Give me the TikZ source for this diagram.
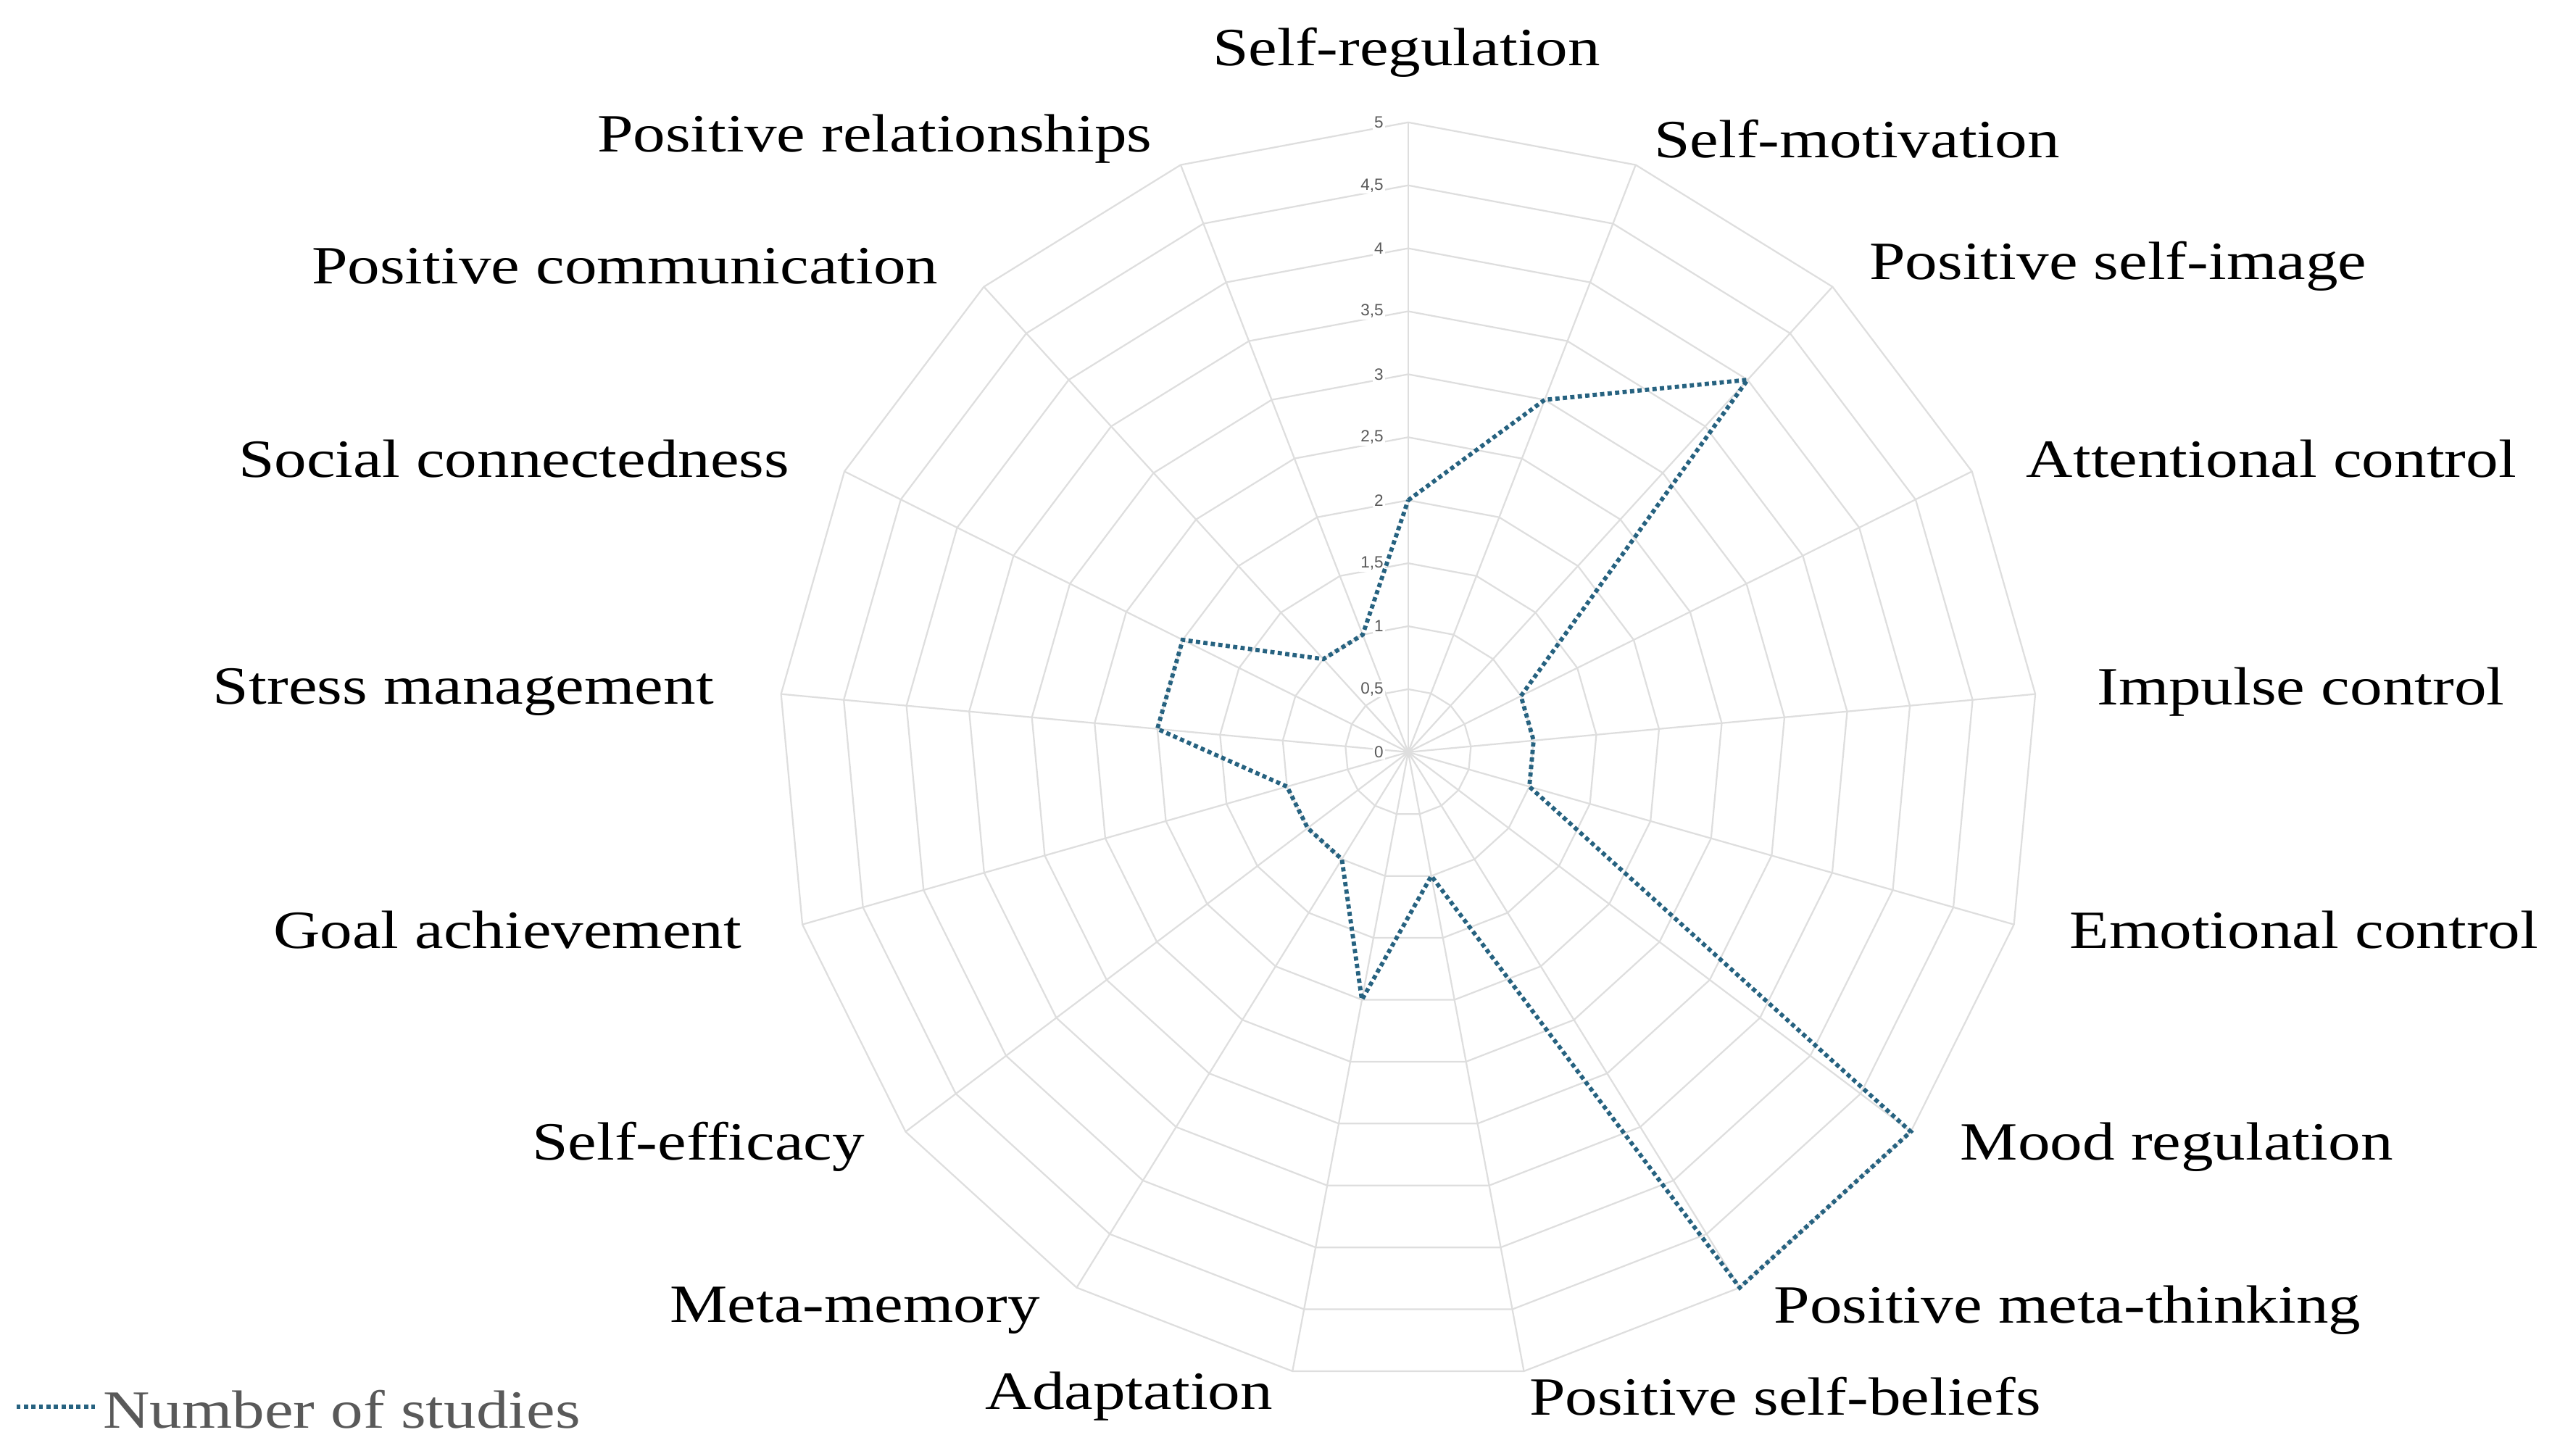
\documentclass[tikz,border=0pt]{standalone}
\usepackage{fontspec}
\setmainfont{Liberation Serif}[FakeStretch=1.2]
\newfontfamily\sans{Liberation Sans}
\usetikzlibrary{calc}
\definecolor{series}{RGB}{38,98,128}
\definecolor{gridc}{RGB}{222,222,222}
\definecolor{tickc}{RGB}{89,89,89}
\begin{document}
\begin{tikzpicture}[x=1pt,y=1pt,
  lab/.style={font=\fontsize{33}{38}\selectfont},
  tick/.style={font=\sans\fontsize{10}{12}\selectfont,text=tickc},
  gridline/.style={draw=gridc,line width=1pt},
  seriesline/.style={draw=series,line width=2.6pt,dotted}]
\useasboundingbox (0,0) rectangle (1564,892);
\coordinate (c) at (863,431);
\def\R{77.2}
% rings
\foreach \k in {1,...,10}{
  \draw[gridline] ($(c)+(90:{\k*0.5*\R})$)
   \foreach \i in {1,...,16}{ -- ($(c)+({90-\i*360/17}:{\k*0.5*\R})$)} -- cycle;
}
\foreach \i in {0,...,16}{
  \draw[gridline] (c) -- ($(c)+({90-\i*360/17}:{5*\R})$);
}
% tick labels
\foreach \v/\t in {0/0,0.5/{0,5},1/1,1.5/{1,5},2/2,2.5/{2,5},3/3,3.5/{3,5},4/4,4.5/{4,5},5/5}{
  \node[tick,anchor=east,fill=white,inner sep=1pt] (t\v) at ($(c)+(-14,{\v*\R})$) {\t};
}
% data
\foreach \v [count=\i from 0] in {2,3,4,1,1,1,5,5,1,2,1,1,1,2,2,1,1}{
  \coordinate (p\i) at ($(c)+({90-\i*360/17}:{\v*\R})$);
}
\draw[seriesline] (p0) -- (p1) -- (p2) -- (p3) -- (p4) -- (p5) -- (p6) -- (p7) -- (p8)
  -- (p9) -- (p10) -- (p11) -- (p12) -- (p13) -- (p14) -- (p15) -- (p16) -- cycle;
% labels
\node[lab] (l0) at (862,860) {Self-regulation};
\node[lab] (l1) at (1138,807) {Self-motivation};
\node[lab] (l2) at (1298,729) {Positive self-image};
\node[lab] (l3) at (1392,611) {Attentional control};
\node[lab] (l4) at (1410,468) {Impulse control};
\node[lab] (l5) at (1412,322) {Emotional control};
\node[lab] (l6) at (1334,189) {Mood regulation};
\node[lab] (l7) at (1267,89) {Positive meta-thinking};
\node[lab] (l8) at (1094,36) {Positive self-beliefs};
\node[lab] (l9) at (692,36) {Adaptation};
\node[lab] (l10) at (524,89) {Meta-memory};
\node[lab] (l11) at (428,189) {Self-efficacy};
\node[lab] (l12) at (311,322) {Goal achievement};
\node[lab] (l13) at (284,468) {Stress management};
\node[lab] (l14) at (315,611) {Social connectedness};
\node[lab] (l15) at (383,729) {Positive communication};
\node[lab] (l16) at (536,807) {Positive relationships};
% legend
\coordinate (la) at (10,30);
\coordinate (lb) at (58,30);
\draw[seriesline] (la) -- (lb);
\node[lab,text=tickc,anchor=west,inner sep=0pt] (leg) at (63,28) {Number of studies};
\end{tikzpicture}
\end{document}
